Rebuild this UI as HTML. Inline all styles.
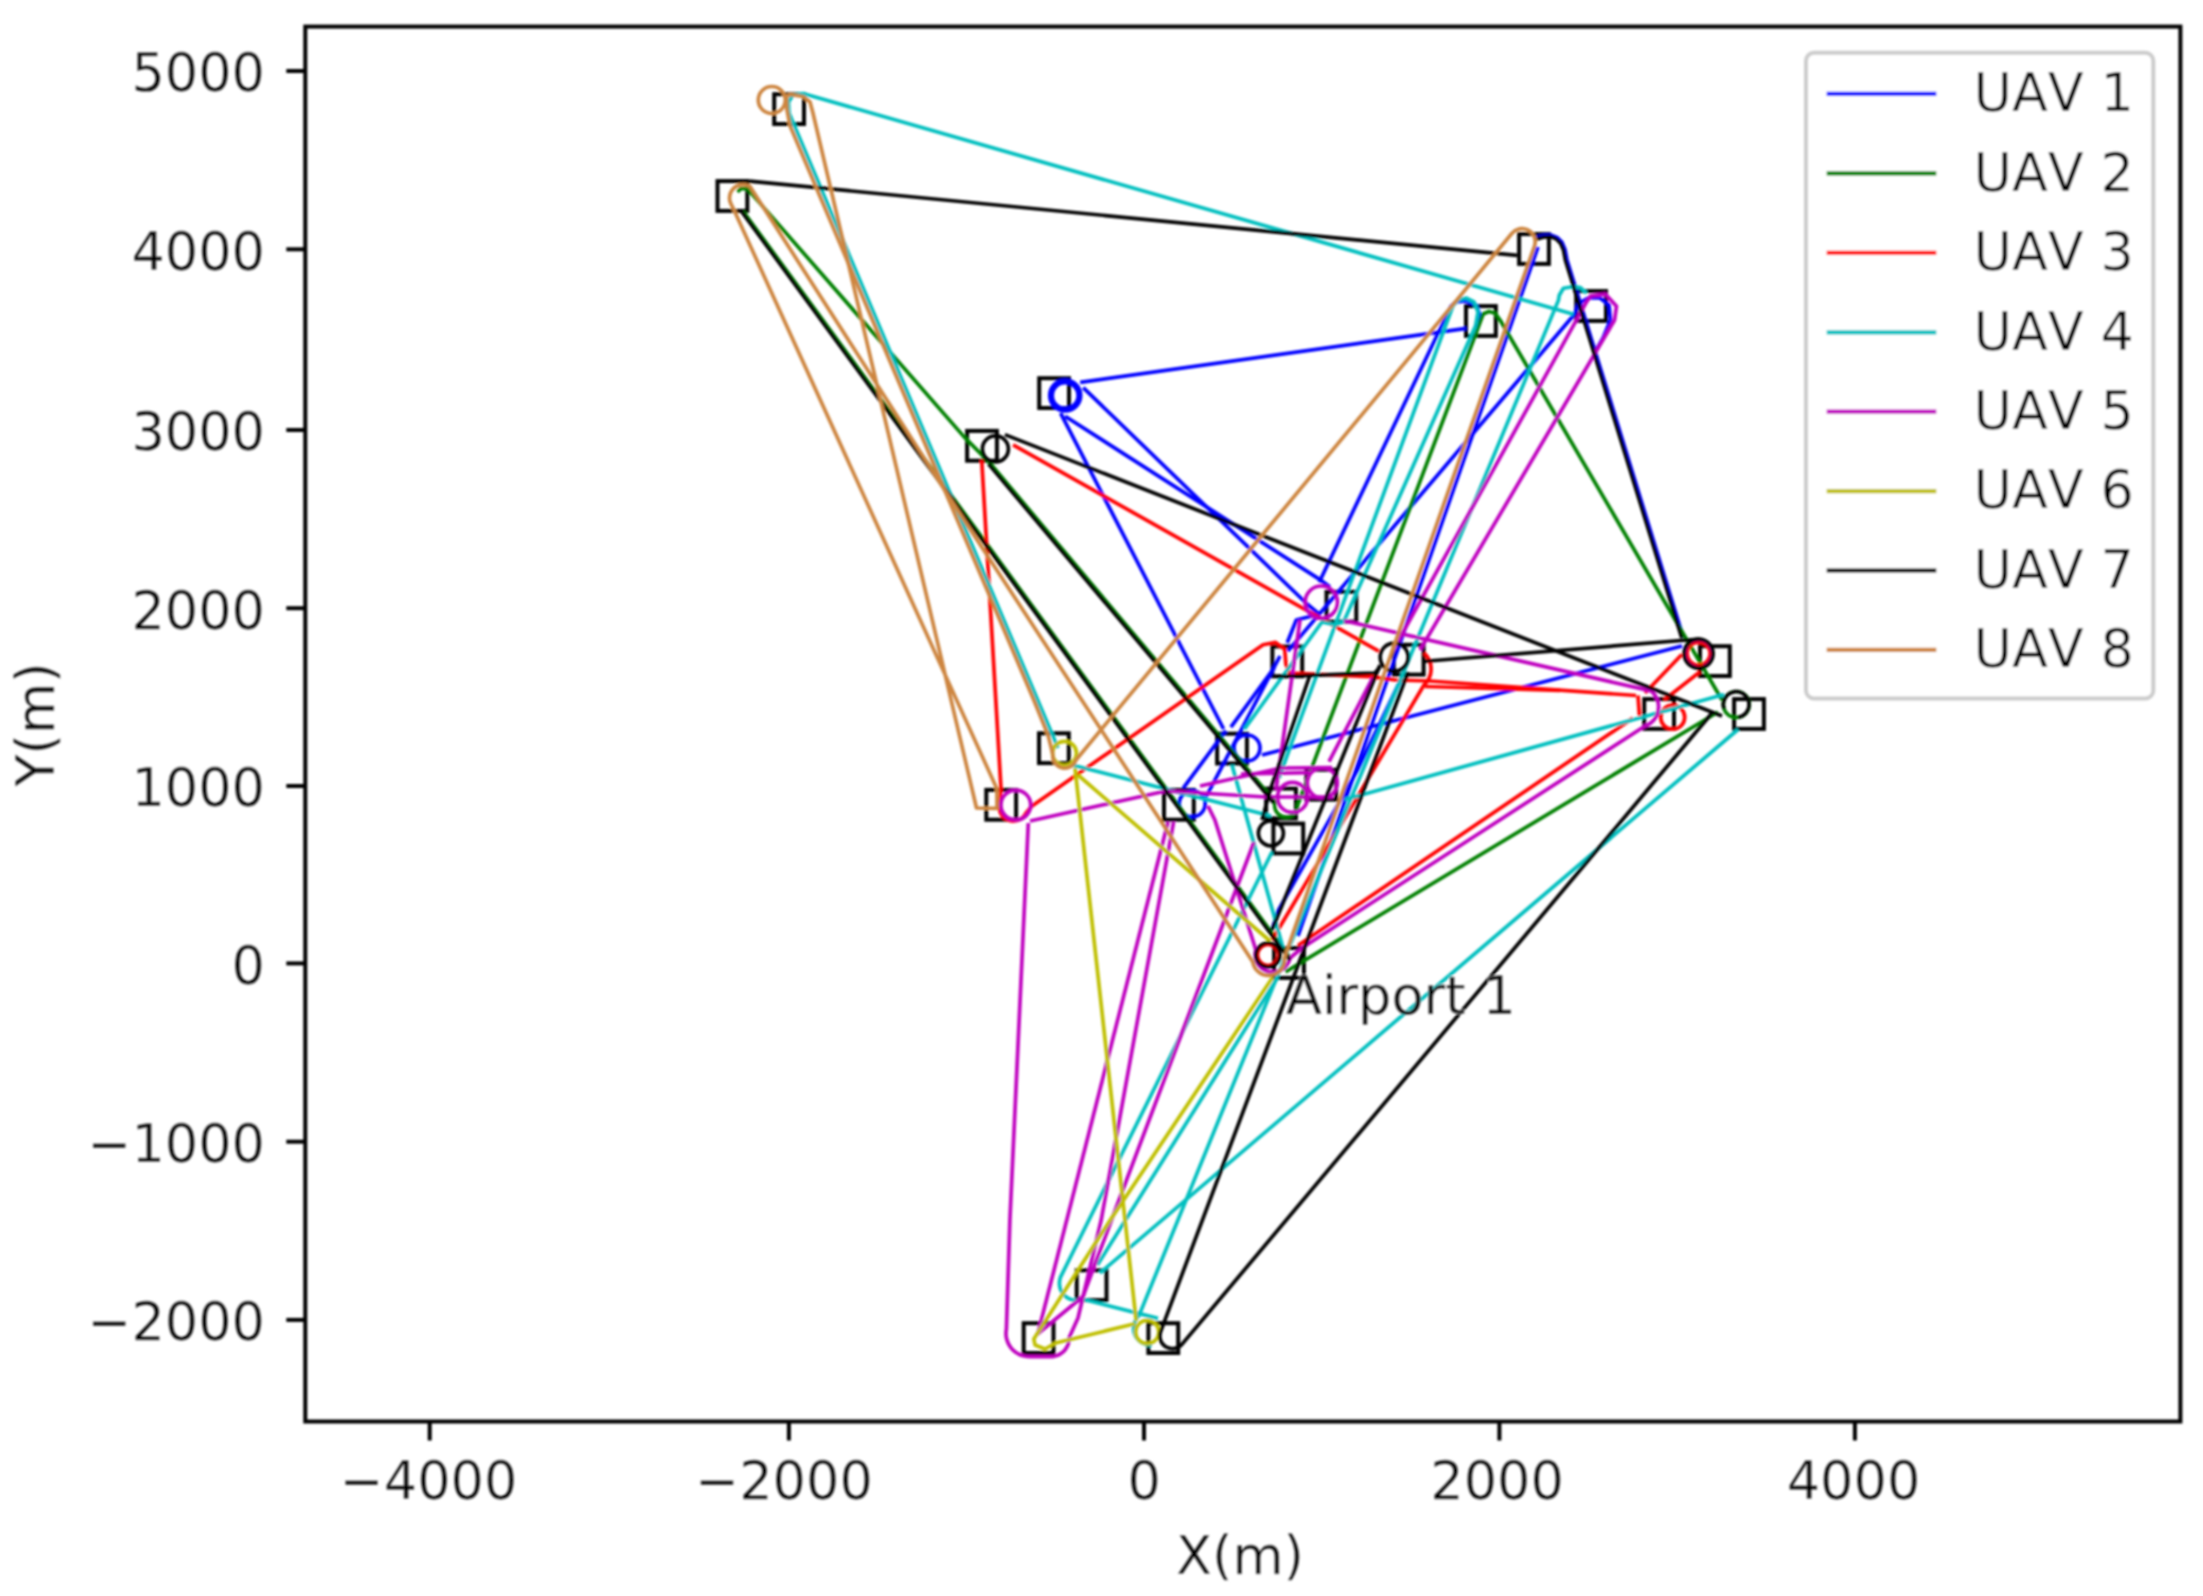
<!DOCTYPE html>
<html lang="en"><head><meta charset="utf-8"><title>UAV paths</title>
<style>html,body{margin:0;padding:0;background:#fff}svg{display:block}text{font-kerning:none;stroke:#fff;stroke-width:0.35px;font-family:"DejaVu Sans","Liberation Sans",sans-serif;fill:#000}</style></head><body>
<svg width="2203" height="1596" viewBox="0 0 2203 1596">
<defs><filter id="bl" x="-2%" y="-2%" width="104%" height="104%"><feGaussianBlur stdDeviation="0.9"/></filter><clipPath id="ax"><rect x="305" y="27" width="1875" height="1394"/></clipPath></defs>
<rect width="2203" height="1596" fill="#fff"/>
<g filter="url(#bl)">
<g clip-path="url(#ax)" fill="none" stroke-linejoin="round" stroke-linecap="butt">
<g stroke="#000" stroke-width="4" stroke-linejoin="miter">
<rect x="774.2" y="94.2" width="29.8" height="29.8"/>
<rect x="717.5" y="181.1" width="29.8" height="29.8"/>
<rect x="1039.2" y="378.2" width="29.8" height="29.8"/>
<rect x="967.1" y="430.9" width="29.8" height="29.8"/>
<rect x="1519.1" y="234.1" width="29.8" height="29.8"/>
<rect x="1576.2" y="291.1" width="29.8" height="29.8"/>
<rect x="1466" y="306.1" width="29.8" height="29.8"/>
<rect x="1326.5" y="591.8" width="29.8" height="29.8"/>
<rect x="1272.4" y="646.5" width="29.8" height="29.8"/>
<rect x="1393.8" y="644.8" width="29.8" height="29.8"/>
<rect x="1700" y="646.2" width="29.8" height="29.8"/>
<rect x="1734.1" y="699.1" width="29.8" height="29.8"/>
<rect x="1644.2" y="699.1" width="29.8" height="29.8"/>
<rect x="1039" y="733.3" width="29.8" height="29.8"/>
<rect x="1217.1" y="733.7" width="29.8" height="29.8"/>
<rect x="986.3" y="789.9" width="29.8" height="29.8"/>
<rect x="1164" y="789.9" width="29.8" height="29.8"/>
<rect x="1266.1" y="788.6" width="29.8" height="29.8"/>
<rect x="1306.4" y="769.8" width="29.8" height="29.8"/>
<rect x="1273.4" y="823.6" width="29.8" height="29.8"/>
<rect x="1274.1" y="948.1" width="29.8" height="29.8"/>
<rect x="1076.7" y="1270.3" width="29.8" height="29.8"/>
<rect x="1023.7" y="1323.2" width="29.8" height="29.8"/>
<rect x="1148.4" y="1323.2" width="29.8" height="29.8"/>
</g>
<g stroke="#0000ff" stroke-width="3.7">
<path d="M1298 936 L1538 247"/>
<path d="M1536.3 237.6 L1543 235.7 L1550.6 235.1 L1557 237.4 L1561.8 242.1 L1565 249.5 L1566.9 259.7 L1683.3 637.6"/>
<circle cx="1698.6" cy="653.6" r="13.5"/>
<path d="M1682 646 L1262 755"/>
<circle cx="1247" cy="748" r="13"/>
<path d="M1223.6 729 L1060.6 413.2"/>
<circle cx="1065.2" cy="395.5" r="14.2" stroke-width="6.2"/>
<path d="M1080.2 382.3 L1466.4 328.4"/>
<path d="M1083.2 387.6 L1307 604 L1319 614"/>
<path d="M1065.1 416.2 L1319.2 579.1 L1330 587"/>
<path d="M1319.2 582.2 L1450.8 306.5 L1456 302 L1466 301 L1476 305 L1480 315 L1476 328"/>
<path d="M1320 614 L1296.3 620 L1287.2 642.7"/>
<path d="M1287.8 651.1 L1574.5 314.3 L1578 304 L1588 298 L1600 298 L1609 305 L1610.5 320 L1603 338 L1595 352"/>
<path d="M1230.9 727.2 L1274.5 667.3"/>
<path d="M1206 797 L1280 656"/>
<path d="M1225.8 730.6 L1183.2 788.2"/>
<circle cx="1192.2" cy="803.8" r="13"/>
<path d="M1400 681 L1358.1 769 L1278.2 910.7 L1272 930"/>
</g>
<g stroke="#008000" stroke-width="3.7">
<path d="M1291 959.2 L743.1 211.4"/>
<path d="M737.5 192 L741 188.5 L747.2 188.6 L963.9 436.6 L989.6 462.8 L1275.1 802 L1274.6 804.8 L1274.8 807.7 L1275.7 810.4 L1277.2 812.8 L1279.3 814.8 L1281.8 816.2 L1284.6 816.9 L1287.5 816.9 L1290.3 816.2 L1292.8 814.9 L1294.9 813 L1296.5 810.6 L1297.5 807.9 L1297.7 805 L1477.1 330.3 L1483.1 314 L1489 311.5 L1495.2 313.3 L1500.2 320.3 L1722 700"/>
<circle cx="1736.3" cy="704.5" r="13"/>
<path d="M1718 712 L1285.5 971.8"/>
</g>
<g stroke="#ff0000" stroke-width="3.7">
<circle cx="1268" cy="955" r="10.5"/>
<path d="M1272 940 L1424 685 L1425.8 683.2 L1427.4 681.1 L1428.7 678.9 L1429.7 676.6 L1430.5 674.1 L1430.9 671.6 L1431.1 669 L1430.9 666.4 L1430.5 663.9 L1429.7 661.4 L1428.7 659.1 L1427.4 656.9 L1425.8 654.8 L1424 653"/>
<path d="M1378.7 651.1 L1013.1 444.8"/>
<path d="M981.7 459.8 L1001 788.8 L999.7 803 L999.2 806.2 L999.4 809.4 L1000.3 812.5 L1001.9 815.3 L1004.1 817.7 L1006.8 819.5 L1009.8 820.6 L1013 821.1 L1016.2 820.7 L1019.3 819.7 L1022 818 L1024.3 815.7 L1026 813 L1032 806 L1263.1 644.7 L1275.6 642.4 L1284.7 649.2 L1285.9 664 L1289.3 673.2 L1370.3 676.6 L1395.4 680 L1429.6 681 L1636 695.5"/>
<path d="M1638 695.5 L1639.5 716"/>
<path d="M1645 693 L1681.8 654.5"/>
<path d="M1664 700 L1700 671.8"/>
<circle cx="1672.7" cy="717.2" r="12"/>
<circle cx="1698.6" cy="653.6" r="11" stroke-width="2.6"/>
<path d="M1425 686.5 L1560 690.4"/>
<path d="M1633 718 L1298 945.5"/>
</g>
<g stroke="#00bfbf" stroke-width="3.7">
<path d="M1058 748 L789 113 L788.5 102 L793 95 L803 93.5 L1573.4 314.2"/>
<path d="M1072 765 L1271 816"/>
<path d="M1272 852 L1074 1250 L1060.4 1277.4 L1059.7 1280.1 L1059.4 1282.9 L1059.6 1285.8 L1060.2 1288.5 L1061.3 1291.1 L1062.8 1293.5 L1064.6 1295.6 L1066.8 1297.4 L1069.3 1298.8 L1071.9 1299.8 L1074.7 1300.3 L1077.5 1300.4 L1080.3 1300 L1083 1299.2 L1158 1318.4"/>
<path d="M1277.3 978 L1097.4 1265"/>
<path d="M1100 1273 L1738 729.5"/>
<path d="M1288 950 L1139 1315.6 L1137 1317.8 L1135.4 1320.4 L1134.3 1323.2 L1133.6 1326.1 L1133.6 1329.1 L1134 1332.1 L1135 1335 L1136.4 1337.6 L1138.3 1339.9 L1140.6 1341.9 L1143.2 1343.4 L1146 1344.5 L1149 1345 L1152 1345"/>
<path d="M1453.1 305.4 L1291.8 742.7 L1279 778"/>
<path d="M1475.7 325.4 L1344 621 L1336 625 L1322 622 L1244.5 729"/>
<path d="M1453.1 305.4 L1458 300 L1466 298 L1474 302 L1478 312 L1475.7 325.4"/>
<path d="M1290 945 L1558.4 300.4 L1559.3 295.2 L1563.4 288.2 L1572.4 286.7 L1580.4 287.7 L1586.4 293.2"/>
<path d="M1724 694.5 L1345 799.5"/>
<path d="M1232 765 L1283 948"/>
</g>
<g stroke="#bf00bf" stroke-width="3.7">
<circle cx="1015.8" cy="805.1" r="14.9"/>
<path d="M1028.3 823 L1009.9 1220 L1006.4 1329 L1006 1332 L1006 1334.9 L1006.4 1337.9 L1007.2 1340.8 L1008.3 1343.5 L1009.8 1346.1 L1011.5 1348.5 L1013.6 1350.6 L1016 1352.5 L1018.5 1354 L1021.2 1355.2 L1024.1 1356 L1027 1356.5 L1030 1356.6 L1050 1356.6 L1052.1 1356.6 L1054.2 1356.3 L1056.3 1355.8 L1058.3 1355 L1060.2 1354 L1062 1352.8 L1063.6 1351.4 L1065 1349.9 L1066.2 1348.1 L1067.3 1346.3 L1068.1 1344.3 L1068.6 1342.2 L1068.9 1340.1 L1069 1338 L1078 1318 L1101.2 1220 L1173.6 822"/>
<path d="M1030 821 L1166 791 L1266 797 L1333 797"/>
<path d="M1200 786 L1281 768 L1332 767.6"/>
<path d="M1241 774 L1310 772.7"/>
<path d="M1168 822 L1038 1333"/>
<path d="M1208 806 L1214.9 820 L1255.8 949.8 L1255.1 953.8 L1255.4 957.8 L1256.6 961.7 L1258.7 965.2 L1261.4 968.1 L1264.8 970.3 L1268.6 971.7 L1272.6 972.2 L1276.7 971.8 L1280.5 970.4 L1283.9 968.2 L1286.7 965.3 L1288.8 961.9 L1290 958 L1302 948 L1645 726 L1647.8 724.8 L1650.5 723.1 L1652.8 721.1 L1654.8 718.7 L1656.4 716.1 L1657.6 713.2 L1658.3 710.2 L1658.6 707.1 L1658.4 704 L1657.8 701 L1656.6 698.1 L1655.1 695.4 L1653.2 693 L1650.9 690.9 L1344 620.7"/>
<path d="M1254 842 L1194.3 1000 L1111.5 1220 L1083 1296.5 L1036.5 1334.8"/>
<path d="M1372.6 678.2 L1329 761.7"/>
<path d="M1300 620 L1276 790"/>
<circle cx="1321.3" cy="602.2" r="16.2"/>
<circle cx="1292.5" cy="797.4" r="15"/>
<circle cx="1322.3" cy="782.9" r="15"/>
<path d="M1392 652 L1586.4 302.2 L1590.4 296.2 L1605.5 294.2 L1616.5 306.3 L1614.5 320.3 L1420 650"/>
</g>
<g stroke="#bfbf00" stroke-width="3.7">
<circle cx="1064.5" cy="753.3" r="12"/>
<path d="M1270 941 L1078 775"/>
<path d="M1075 768 L1136.2 1321"/>
<circle cx="1147.2" cy="1332" r="11.6"/>
<path d="M1134.9 1323.8 L1055.6 1343 L1045 1349 L1035 1345 L1033.8 1338.9 L1110.3 1220 L1272.7 977.3"/>
</g>
<g stroke="#000000" stroke-width="3.7">
<circle cx="1268" cy="955" r="12"/>
<path d="M1290 960 L742.1 212.2"/>
<path d="M749.2 181.1 L1517 255.3"/>
<path d="M1536.3 239.1 L1543 237.2 L1550.3 236.6 L1556 238.8 L1560.4 243.1 L1563.5 250 L1565.4 260.1 L1681.8 638"/>
<circle cx="1698.6" cy="653.6" r="14.5"/>
<path d="M1700 639 L1422 661.5"/>
<circle cx="1394.2" cy="657.2" r="14"/>
<path d="M1276 676.6 L1375 673 L1380 667"/>
<path d="M1309.8 675.5 L1290.4 732 L1270.2 790 L1262 820"/>
<circle cx="1270.9" cy="833.3" r="12.5"/>
<circle cx="995.4" cy="448.9" r="13"/>
<path d="M1004.9 434.6 L1722 716"/>
<path d="M988.5 463.9 L1274 803"/>
<path d="M1712 713 L1182.1 1344.1 L1180.3 1345.9 L1178.2 1347.2 L1175.8 1348.1 L1173.4 1348.6 L1170.8 1348.5 L1168.4 1347.9 L1166.1 1346.9 L1164.1 1345.4 L1162.3 1343.6 L1161 1341.4 L1160.2 1339 L1159.8 1336.5 L1160 1334 L1160.6 1331.6 L1408 672"/>
<path d="M1738 717.4 L1742.3 716 L1745.9 713.2 L1748.3 709.3 L1749.2 704.8 L1748.5 700.3 L1746.3 696.3 L1742.9 693.4 L1738.7 691.7 L1734.1 691.7 L1729.8 693.2 L1726.3 696.1 L1724 700 L1723.2 704.5 L1724 709"/>
<path d="M1380 665 L1272 930"/>
</g>
<g stroke="#cd853f" stroke-width="3.7">
<circle cx="771.8" cy="100" r="13.5"/>
<path d="M1052.9 754.6 L1048 735 L1033.8 700 L790 125.9 L787 110 L786.4 95"/>
<path d="M785 97 L790 94.5 L803 96.5 L810 102 L812.7 112 L976.5 808 L997 808.3 L996.9 788.7 L734 210 L730.8 203.7 L729.9 201.2 L729.5 198.6 L729.7 196 L730.3 193.4 L731.5 191 L733.1 188.9 L735 187.2 L737.3 185.8 L739.8 184.9 L742.4 184.6 L745.1 184.7 L747.6 185.4 L750 186.5 L951 500 L1252.7 961.8 L1253.6 965.2 L1255.2 968.4 L1257.5 971.1 L1260.3 973.2 L1263.5 974.7 L1266.9 975.4 L1270.5 975.4 L1273.9 974.6 L1277.1 973.1 L1279.8 970.9 L1282 968.1 L1283.6 965 L1284.4 961.5 L1284.5 958 L1292 936 L1534.5 246 L1535.1 243.5 L1535.2 240.9 L1534.8 238.3 L1533.8 235.9 L1532.4 233.7 L1530.7 231.8 L1528.5 230.3 L1526.2 229.2 L1523.6 228.7 L1521 228.6 L1518.5 229.1 L1516 230.1 L1513.9 231.5 L1512 233.3 L1076 760 L1074.9 762.3 L1073.4 764.3 L1071.6 765.9 L1069.4 767.1 L1067 767.9 L1064.5 768.1 L1062 767.8 L1059.6 766.9 L1057.5 765.6 L1055.7 763.9 L1054.3 761.9 L1053.3 759.6 L1052.8 757.1 L1052.9 754.6"/>
</g>
</g>
<text x="1286" y="1014" font-size="52.5">Airport 1</text>
<rect x="305.3" y="26.6" width="1875.1" height="1394.9" fill="none" stroke="#000" stroke-width="4"/>
<g stroke="#000" stroke-width="4">
<line x1="429.7" y1="1421.5" x2="429.7" y2="1440.5"/>
<line x1="788.9" y1="1421.5" x2="788.9" y2="1440.5"/>
<line x1="1144" y1="1421.5" x2="1144" y2="1440.5"/>
<line x1="1499.4" y1="1421.5" x2="1499.4" y2="1440.5"/>
<line x1="1854.9" y1="1421.5" x2="1854.9" y2="1440.5"/>
<line x1="286.3" y1="71" x2="305.3" y2="71"/>
<line x1="286.3" y1="249.3" x2="305.3" y2="249.3"/>
<line x1="286.3" y1="430" x2="305.3" y2="430"/>
<line x1="286.3" y1="608.2" x2="305.3" y2="608.2"/>
<line x1="286.3" y1="786" x2="305.3" y2="786"/>
<line x1="286.3" y1="963.4" x2="305.3" y2="963.4"/>
<line x1="286.3" y1="1141.7" x2="305.3" y2="1141.7"/>
<line x1="286.3" y1="1319.9" x2="305.3" y2="1319.9"/>
</g>
<g font-size="52.5">
<text x="428.6" y="1498.5" text-anchor="middle">−4000</text>
<text x="784" y="1498.5" text-anchor="middle">−2000</text>
<text x="1144.2" y="1498.5" text-anchor="middle">0</text>
<text x="1497.1" y="1498.5" text-anchor="middle">2000</text>
<text x="1853.5" y="1498.5" text-anchor="middle">4000</text>
<text x="265" y="91.3" text-anchor="end">5000</text>
<text x="265" y="269.6" text-anchor="end">4000</text>
<text x="265" y="450.3" text-anchor="end">3000</text>
<text x="265" y="628.5" text-anchor="end">2000</text>
<text x="265" y="806.3" text-anchor="end">1000</text>
<text x="265" y="983.7" text-anchor="end">0</text>
<text x="265" y="1162" text-anchor="end">−1000</text>
<text x="265" y="1340.2" text-anchor="end">−2000</text>
<text x="1240" y="1574" text-anchor="middle">X(m)</text>
<text transform="translate(54 724.5) rotate(-90)" text-anchor="middle">Y(m)</text>
</g>
<rect x="1806" y="52.7" width="347.3" height="645.7" rx="8" ry="8" fill="#fff" fill-opacity="0.8" stroke="#cccccc" stroke-width="4"/>
<line x1="1826.7" y1="93.8" x2="1936.3" y2="93.8" stroke="#0000ff" stroke-width="4.2"/>
<text x="1973.5" y="111.1" font-size="52.5">UAV 1</text>
<line x1="1826.7" y1="173.4" x2="1936.3" y2="173.4" stroke="#008000" stroke-width="4.2"/>
<text x="1973.5" y="190.7" font-size="52.5">UAV 2</text>
<line x1="1826.7" y1="252.8" x2="1936.3" y2="252.8" stroke="#ff0000" stroke-width="4.2"/>
<text x="1973.5" y="270.1" font-size="52.5">UAV 3</text>
<line x1="1826.7" y1="332.4" x2="1936.3" y2="332.4" stroke="#00bfbf" stroke-width="4.2"/>
<text x="1973.5" y="349.7" font-size="52.5">UAV 4</text>
<line x1="1826.7" y1="411.7" x2="1936.3" y2="411.7" stroke="#bf00bf" stroke-width="4.2"/>
<text x="1973.5" y="429" font-size="52.5">UAV 5</text>
<line x1="1826.7" y1="491.1" x2="1936.3" y2="491.1" stroke="#bfbf00" stroke-width="4.2"/>
<text x="1973.5" y="508.4" font-size="52.5">UAV 6</text>
<line x1="1826.7" y1="570.5" x2="1936.3" y2="570.5" stroke="#000000" stroke-width="4.2"/>
<text x="1973.5" y="587.8" font-size="52.5">UAV 7</text>
<line x1="1826.7" y1="649.9" x2="1936.3" y2="649.9" stroke="#cd853f" stroke-width="4.2"/>
<text x="1973.5" y="667.2" font-size="52.5">UAV 8</text>
</g>
</svg></body></html>
